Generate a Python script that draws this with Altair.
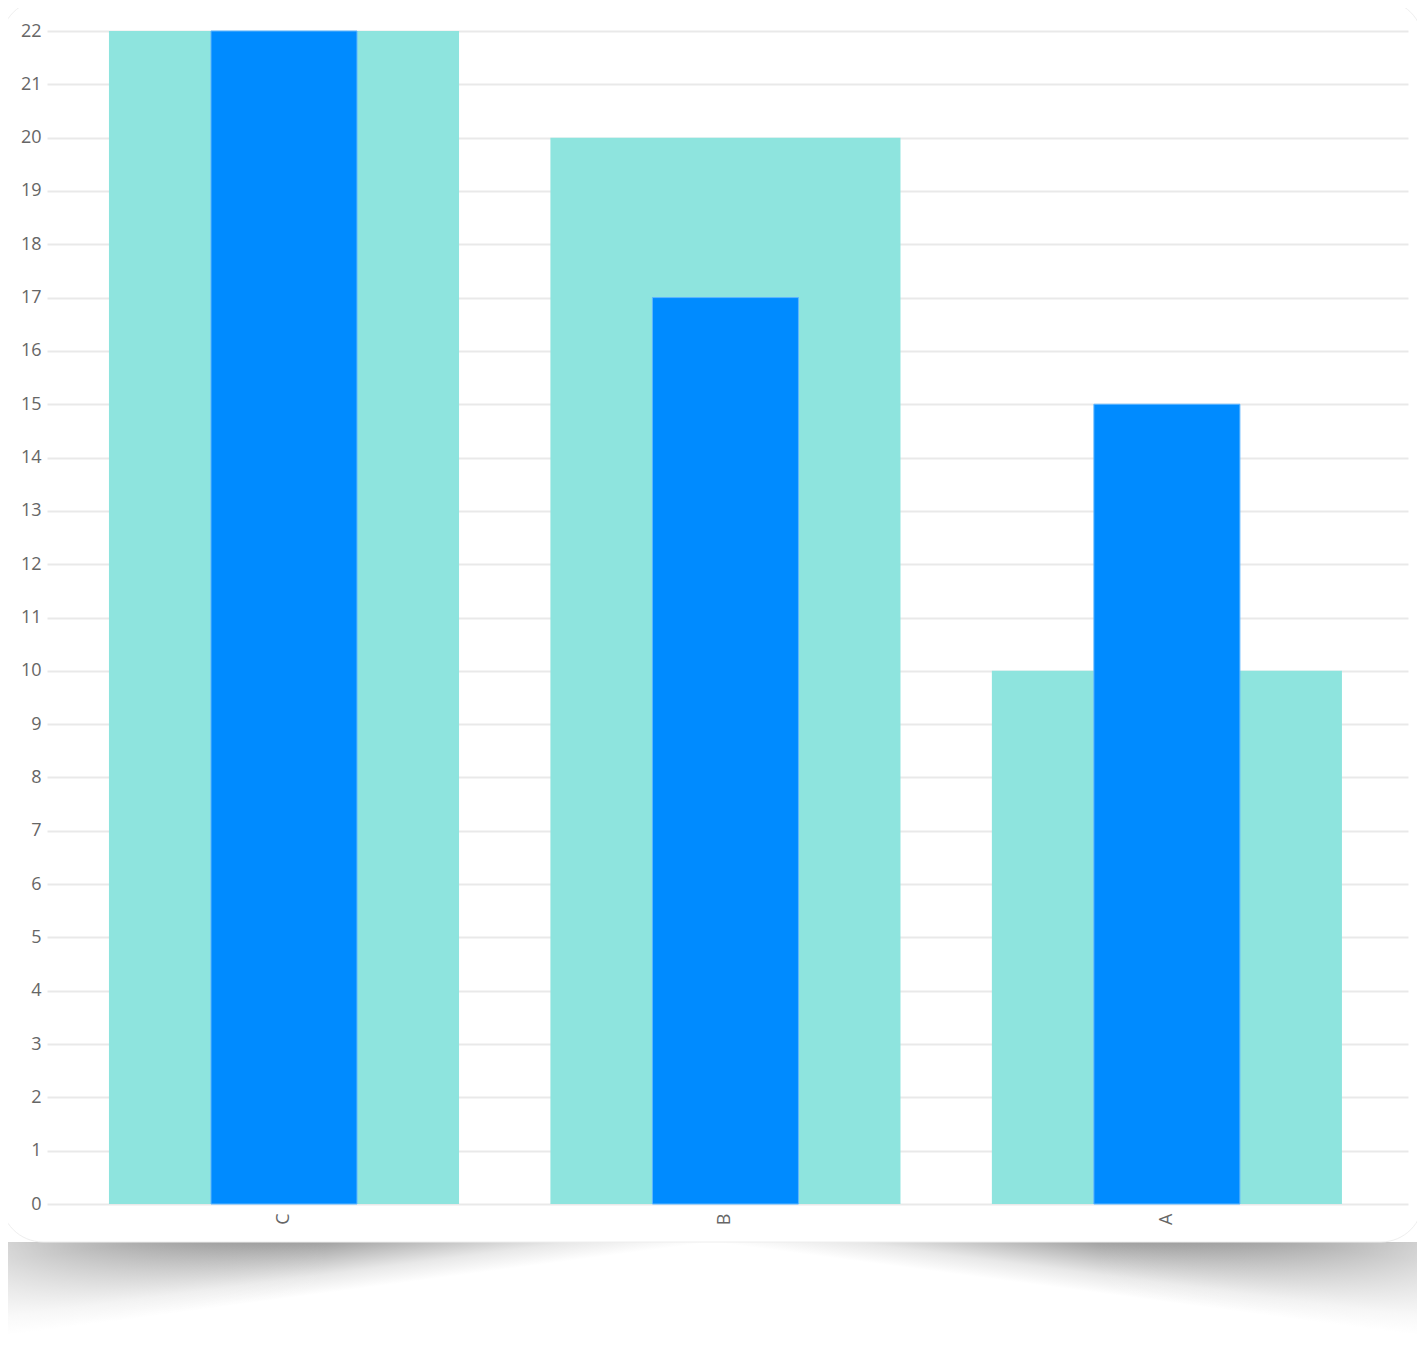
import altair as alt
import pandas as pd

# ─────────────────────────────────────────────────────────────────────────────
# DATI
# ─────────────────────────────────────────────────────────────────────────────
categorie = ["C", "B", "A"]
valori_larghi = [22, 20, 10]
valori_stretti = [22, 17, 15]
tick_y = list(range(0, 23))

df = pd.DataFrame(
    {"Categoria": categorie, "Larghi": valori_larghi, "Stretti": valori_stretti}
)

FONT = "Open Sans"
GRIGIO_TESTO = "#666666"

# ─────────────────────────────────────────────────────────────────────────────
# SFONDO "CARD" CON OMBRA (solo decorativo)
# ─────────────────────────────────────────────────────────────────────────────
sfondo_df = pd.DataFrame({"k": [0]})


def gradiente(x1, y1, x2, y2, stops):
    return alt.LinearGradient(
        gradient="linear", x1=x1, y1=y1, x2=x2, y2=y2,
        stops=[alt.GradientStop(offset=o, color=c) for o, c in stops],
    )


stop_ombra = [
    (0.0, "#525252"),
    (0.1, "#6c6c6c"),
    (0.25, "#ababab"),
    (0.4, "#e8e8e8"),
    (0.5, "#ffffff"),
]

# ombra sinistra (curva della pagina)
ombra_sx = (
    alt.Chart(sfondo_df)
    .mark_rect(color=gradiente(0, 0, 1, 1, stop_ombra))
    .encode(
        x=alt.value(-39), x2=alt.value(665),
        y=alt.value(1211), y2=alt.value(1304),
    )
)

# ombra destra
ombra_dx = (
    alt.Chart(sfondo_df)
    .mark_rect(color=gradiente(1, 0, 0, 1, stop_ombra))
    .encode(
        x=alt.value(665), x2=alt.value(1370),
        y=alt.value(1211), y2=alt.value(1304),
    )
)

# sfumatura ai lati dell'ombra
bordo_sx = (
    alt.Chart(sfondo_df)
    .mark_rect(
        color=gradiente(0, 0, 1, 0, [(0, "rgba(255,255,255,0.75)"), (1, "rgba(255,255,255,0)")])
    )
    .encode(
        x=alt.value(-40), x2=alt.value(280),
        y=alt.value(1211), y2=alt.value(1310),
    )
)

bordo_dx = (
    alt.Chart(sfondo_df)
    .mark_rect(
        color=gradiente(0, 0, 1, 0, [(0, "rgba(255,255,255,0)"), (1, "rgba(255,255,255,0.75)")])
    )
    .encode(
        x=alt.value(1050), x2=alt.value(1380),
        y=alt.value(1211), y2=alt.value(1310),
    )
)

# bordo della card (senza riempimento, così gli assi restano visibili)
card = (
    alt.Chart(sfondo_df)
    .mark_rect(fill="transparent", stroke="#eeeeee", strokeWidth=1, cornerRadius=42)
    .encode(
        x=alt.value(-46), x2=alt.value(1376),
        y=alt.value(-31), y2=alt.value(1211),
    )
)

# ─────────────────────────────────────────────────────────────────────────────
# ASSI E SCALE
# ─────────────────────────────────────────────────────────────────────────────
asse_x = alt.Axis(
    labelAngle=-90,
    labelFontSize=18,
    labelColor=GRIGIO_TESTO,
    labelFont=FONT,
    ticks=False,
    domain=False,
    grid=False,
    labelPadding=9,
)

asse_y = alt.Axis(
    values=tick_y,
    labelFontSize=18,
    labelColor=GRIGIO_TESTO,
    labelFont=FONT,
    ticks=False,
    domain=False,
    labelPadding=6,
    gridColor="#e9e9e9",
    gridWidth=2,
)

x_scale = alt.Scale(paddingInner=0.207, paddingOuter=0.145, align=0.484)
y_scale = alt.Scale(domain=[0, 22], nice=False)

# ─────────────────────────────────────────────────────────────────────────────
# BARRE
# ─────────────────────────────────────────────────────────────────────────────
barre_larghe = (
    alt.Chart(df)
    .mark_bar(color="#8EE4DE")
    .encode(
        x=alt.X("Categoria:N", sort=categorie, title=None, scale=x_scale, axis=asse_x),
        y=alt.Y("Larghi:Q", title=None, scale=y_scale, axis=asse_y),
    )
)

barre_strette = (
    alt.Chart(df)
    .mark_bar(color="#008BFF", size=146, stroke="#5fb6ff", strokeWidth=1)
    .encode(
        x=alt.X("Categoria:N", sort=categorie, title=None, scale=x_scale, axis=asse_x),
        y=alt.Y("Stretti:Q", title=None, scale=y_scale, axis=asse_y),
    )
)

decorazioni = alt.layer(ombra_sx, ombra_dx, bordo_sx, bordo_dx, card)

# configure() sostituisce l'intera config: va chiamato prima di configure_view/axis
chart = (
    alt.layer(decorazioni, barre_larghe, barre_strette)
    .properties(
        width=1361,
        height=1173,
        autosize=alt.AutoSizeParams(type="none"),
        padding={"left": 39, "top": 23, "right": 9, "bottom": 130},
    )
    .configure(background="white")
    .configure_view(strokeWidth=0, stroke="transparent")
    .configure_axis(domain=False)
)

chart.save("out.html", embed_options={"renderer": "svg", "actions": False})
